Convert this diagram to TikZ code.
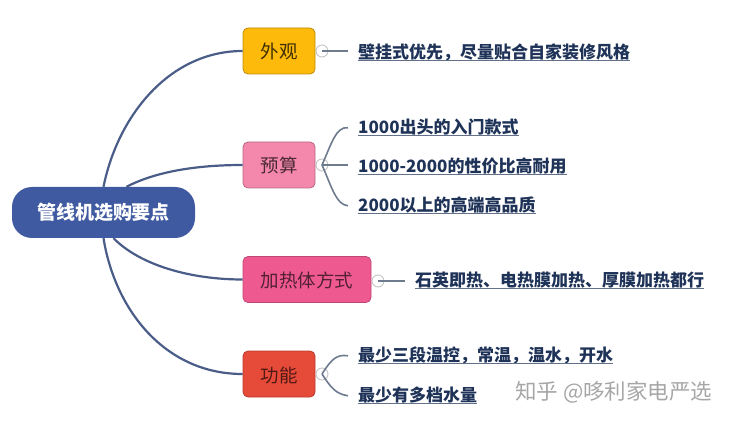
\documentclass[tikz,border=0pt]{standalone}
\usepackage{fontspec}
\usepackage{xcolor}
\usetikzlibrary{calc}
\setmainfont{Noto Sans CJK SC}
\definecolor{rootblue}{HTML}{3F5AA0}
\definecolor{linkblue}{HTML}{4A5C88}
\definecolor{twiggrey}{HTML}{6E7A8E}
\definecolor{leafink}{HTML}{1F3358}
\definecolor{yellowbox}{HTML}{FDBA0B}
\definecolor{pinkbox}{HTML}{F488AC}
\definecolor{rosebox}{HTML}{EE5A90}
\definecolor{redbox}{HTML}{E64A38}
\tikzset{
  root/.style={rounded corners=20, fill=rootblue, text=white, minimum width=183, minimum height=51,
    inner sep=0, font=\fontsize{19}{22}\selectfont\bfseries},
  topic/.style={rounded corners=5, line width=0.8pt, minimum height=46, inner sep=0,
    text height=16, text depth=0, font=\fontsize{18.5}{20}\selectfont},
  fold/.style={circle, draw=black!25, fill=white, line width=0.8pt, minimum size=12, inner sep=0},
  leaf/.style={anchor=west, inner sep=0, text=leafink, text height=13, text depth=1.5,
    font=\fontsize{17}{20}\selectfont\bfseries},
  link/.style={draw=linkblue, line width=2.2pt},
  twig/.style={draw=twiggrey, line width=1.6pt},
  mark line/.style={draw=leafink!70, line width=1.2pt},
  stamp/.style={text=black!35, inner sep=0, font=\fontsize{21.5}{24}\selectfont}
}
\begin{document}
\begin{tikzpicture}[x=1pt,y=-1pt]
\useasboundingbox (0,0) rectangle (731,422);
% centre
\node[root] (main) at (103.5,212.5) {管线机选购要点};

% topics
\node[topic, fill=yellowbox, draw=yellowbox!75!black, minimum width=72, text=yellowbox!25!black] (look) at (279,51) {外观};
\node[topic, fill=pinkbox, draw=pinkbox!75!black, minimum width=72, text=pinkbox!30!black] (budget) at (279,165) {预算};
\node[topic, fill=rosebox, draw=rosebox!80!black, minimum width=128, text=rosebox!35!black] (heat) at (307,279.5) {加热体方式};
\node[topic, fill=redbox, draw=redbox!80!black, minimum width=72, text=redbox!35!black] (func) at (279,374) {功能};

% links from centre
\draw[link] (main.north) .. controls (118,115) and (170,51) .. (look.west);
\draw[link] ([xshift=23]main.north) .. controls (155,172) and (195,165) .. (budget.west);
\draw[link] ([xshift=10]main.south) .. controls (140,265) and (190,279.5) .. (heat.west);
\draw[link] (main.south) .. controls (115,310) and (165,374) .. (func.west);

% leaves
\node[leaf] (wall) at (358,52.75) {壁挂式优先，尽量贴合自家装修风格};
\node[leaf] (low) at (358,127.75) {1000出头的入门款式};
\node[leaf] (mid) at (358,166.75) {1000-2000的性价比高耐用};
\node[leaf] (high) at (358,205.75) {2000以上的高端高品质};
\node[leaf] (film) at (415,280.75) {石英即热、电热膜加热、厚膜加热都行};
\node[leaf] (temp) at (358,355.75) {最少三段温控，常温，温水，开水};
\node[leaf] (water) at (358,395.75) {最少有多档水量};
\foreach \n in {wall,low,mid,high,film,temp,water}
  \draw[mark line] (\n.south west) -- (\n.south east);

% fold marks
\node[fold] (foldA) at (322,51) {};
\node[fold] (foldB) at (322,165) {};
\node[fold] (foldC) at (378,281) {};
\node[fold] (foldD) at (322,374) {};

% twigs
\draw[twig] (foldA.center) -- ([xshift=-10]wall.west |- foldA);
\draw[twig] (foldB.center) .. controls (331,145) and (336,126) .. ([xshift=-10]low.west);
\draw[twig] (foldB.center) -- ([xshift=-10]mid.west |- foldB);
\draw[twig] (foldB.center) .. controls (331,185) and (336,205) .. ([xshift=-10]high.west);
\draw[twig] (foldC.center) -- ([xshift=-10]film.west |- foldC);
\draw[twig] (foldD.center) .. controls (331,360) and (336,354) .. ([xshift=-10]temp.west);
\draw[twig] (foldD.center) .. controls (331,388) and (336,394) .. ([xshift=-10]water.west);

% watermark
\node[stamp, anchor=west] (mark) at (515,392) {知乎 @哆利家电严选};
\end{tikzpicture}
\end{document}
